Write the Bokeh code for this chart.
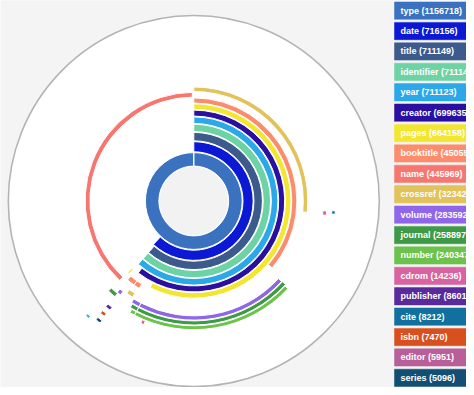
import numpy as np
from bokeh.plotting import figure
from bokeh.models import ColumnDataSource, Range1d
from bokeh.embed import file_html
from bokeh.resources import INLINE
from bokeh.core.properties import value

# ---- data -------------------------------------------------------------
fields = ["type", "date", "title", "identifier", "year", "creator", "pages",
          "booktitle", "name", "crossref", "volume", "journal", "number",
          "cdrom", "publisher", "cite", "isbn", "editor", "series", "other"]
counts = [1156718, 716156, 711149, 711140, 711123, 699635, 664158,
          450558, 445969, 323424, 283592, 258897, 240347,
          14236, 8601, 8212, 7470, 5951, 5096, 0]
colors = ["#3a72c0", "#0b18d4", "#3d5a8c", "#6dd3a4", "#2aa8e8", "#2a0fa0",
          "#f2e631", "#fb8d6c", "#f77670", "#e2c25a", "#8f66e8", "#3f9a48",
          "#6cc24a", "#d863a0", "#5a2a9c", "#12709e", "#d8501e", "#b85e98",
          "#134f72", "#2cc6e8"]
legend_fields = fields[:19]

# segments: field, start/end angle (degrees clockwise from 12 o'clock)
seg_field = ["type", "date", "title", "identifier", "year", "creator",
             "pages", "pages", "booktitle", "booktitle", "booktitle", "name",
             "crossref", "crossref", "volume", "volume", "volume",
             "journal", "journal", "journal", "number", "number",
             "cdrom", "cdrom", "publisher", "cite", "isbn", "series", "other"]
seg_start = [0, 0, 0, 0, 0, 0,
             0, 221.5, 0, 212.0, 215.5, 223.0,
             0, 212.5, 132.5, 207.4, 218.0,
             132.3, 207.4, 219.5, 133.0, 207.5,
             94.3, 202.0, 217.5, 94.0, 217.8, 217.5, 221.8]
seg_end = [359.9, 222.9, 221.3, 221.3, 221.3, 217.7,
           206.7, 222.7, 130.5, 215.5, 220.0, 359.2,
           95.7, 216.0, 207.4, 211.5, 220.0,
           207.4, 210.8, 223.5, 207.5, 209.8,
           96.2, 203.5, 219.8, 95.4, 219.8, 219.5, 223.3]

# ---- layout -----------------------------------------------------------
W, H = 466, 387
cx, cy = 193.3, H - 200.5
band0 = 34.5
outer_r = 185.5

p = figure(width=W, height=H, output_backend="svg", toolbar_location=None,
           x_range=Range1d(0, W), y_range=Range1d(0, H), min_border=0)
p.axis.visible = False
p.grid.visible = False
p.outline_line_color = None
p.background_fill_color = "#f4f4f4"
p.border_fill_color = "#f4f4f4"

# white disk with grey rim
p.circle(x=[cx], y=[cy], radius=outer_r, fill_color="white",
         line_color="#b4b4b4", line_width=1.6)

idx = {f: i for i, f in enumerate(fields)}
band = np.array([idx[f] + 1 for f in seg_field], dtype=float)
inner = band0 * np.sqrt(band) + 0.4
outer = band0 * np.sqrt(band + 1) - 0.4
sa = np.deg2rad(90 - np.array(seg_start, dtype=float))
ea = np.deg2rad(90 - np.array(seg_end, dtype=float))
src = ColumnDataSource(dict(x=[cx] * len(seg_field), y=[cy] * len(seg_field),
                            ir=inner, orr=outer, sa=sa, ea=ea,
                            c=[colors[idx[f]] for f in seg_field]))
p.annular_wedge(x="x", y="y", inner_radius="ir", outer_radius="orr",
                start_angle="sa", end_angle="ea", direction="clock",
                fill_color="c", line_color="white", line_width=1, source=src)

# hole
p.circle(x=[cx], y=[cy], radius=band0 - 0.3, fill_color="#f2f2f2",
         line_color=None)

# legend
pitch, bh = 20.4, 17.3
n = len(legend_fields)
tops = np.array([1.5 + i * pitch for i in range(n)])
lsrc = ColumnDataSource(dict(
    left=[394] * n, right=[480] * n,
    top=H - tops, bottom=H - tops - bh,
    c=colors[:n],
    tx=[400] * n, ty=H - tops - bh / 2,
    label=[f"{f} ({c})" for f, c in zip(legend_fields, counts[:n])]))
p.quad(left="left", right="right", top="top", bottom="bottom",
       fill_color="c", line_color="c", line_width=0.5, source=lsrc)
p.text(x="tx", y="ty", text="label", text_font=value("Liberation Sans"),
       text_font_style="bold", text_font_size="9px", text_color="white",
       text_baseline="middle", source=lsrc)

open("out.html", "w").write(file_html(p, INLINE))
